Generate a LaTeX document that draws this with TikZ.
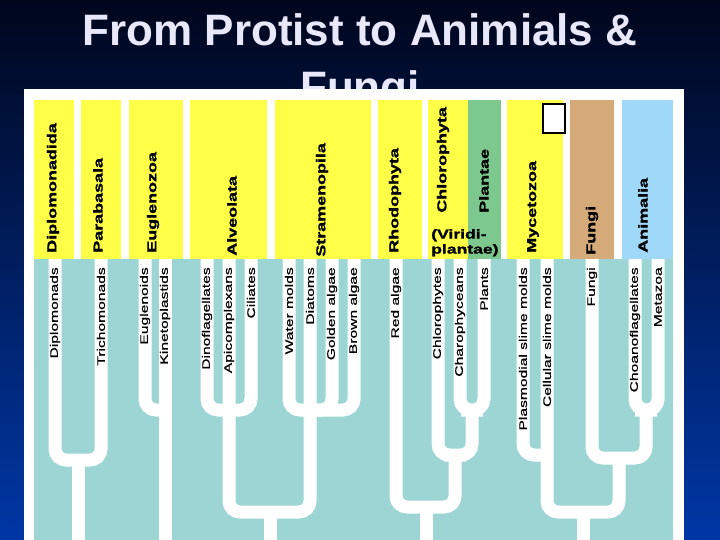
\documentclass[tikz,border=0pt]{standalone}
\usepackage{fontspec}
\setmainfont{Liberation Sans}
\newfontfamily\heavyfont[FakeBold=1.2]{Liberation Sans Bold}
\newfontfamily\leaffont[FakeBold=0.5]{Liberation Sans}

\definecolor{slidetop}{RGB}{0,6,28}
\definecolor{slidemid}{RGB}{0,32,115}
\definecolor{slidebot}{RGB}{0,55,165}
\definecolor{titlegrey}{RGB}{232,232,250}
\definecolor{protyellow}{RGB}{255,255,72}
\definecolor{plantgreen}{RGB}{124,200,143}
\definecolor{fungitan}{RGB}{212,170,120}
\definecolor{animalblue}{RGB}{160,216,248}
\definecolor{treeteal}{RGB}{157,213,213}

\tikzset{
  branch/.style={draw=white, line width=13pt, rounded corners=11pt},
  leaf/.style={rotate=90, xscale=1.42, anchor=east, inner sep=0pt,
    font=\leaffont\fontsize{11}{13}\selectfont},
  group/.style={rotate=90, xscale=1.38, anchor=west, inner sep=0pt,
    font=\heavyfont\fontsize{13}{15}\selectfont},
}

\def\leaves{55/dipl/Diplomonads, 101/tric/Trichomonads, 145/eugl/Euglenoids,
  165/kine/Kinetoplastids, 207/dino/Dinoflagellates, 229/apic/Apicomplexans,
  251/cili/Ciliates, 289/wate/Water molds, 310/diat/Diatoms,
  332/gold/Golden algae, 354/brow/Brown algae, 396/reda/Red algae,
  438/chlo/Chlorophytes, 460/char/Charophyceans, 484/plan/Plants,
  523/plas/Plasmodial slime molds, 547/cell/Cellular slime molds,
  592/fung/Fungi, 635/chon/Choanoflagellates, 658/meta/Metazoa}

\begin{document}
\begin{tikzpicture}[x=1pt, y=-1pt]
    \clip (0,0) rectangle (720,540);
    % Draw the slide background
    \shade[top color=slidetop, middle color=slidemid, bottom color=slidebot]
      (0,0) rectangle (720,540);

    % Title
    \node[font=\bfseries\fontsize{44}{57}\selectfont, text=titlegrey, align=center,
      anchor=north, inner sep=0pt] (title) at (360,13)
      {From Protist to Animials \&\\Fungi};

    % Draw the white frame
    \fill[white] (24,89) rectangle (684,545);

    % Draw the header columns
    \fill[protyellow] (34,100) rectangle (74,259);
    \fill[protyellow] (81,100) rectangle (121,259);
    \fill[protyellow] (129,100) rectangle (183,259);
    \fill[protyellow] (190,100) rectangle (267,259);
    \fill[protyellow] (275,100) rectangle (371,259);
    \fill[protyellow] (378,100) rectangle (422,259);
    \fill[protyellow] (428,100) rectangle (468,259);
    \fill[plantgreen] (468,100) rectangle (501,259);
    \fill[protyellow] (507,100) rectangle (563,259);
    \fill[fungitan] (570,100) rectangle (614,259);
    \fill[animalblue] (622,100) rectangle (673,259);
    \draw[black, line width=2.3pt, fill=white] (543,104) rectangle (565,133);

    % Draw the tree area
    \fill[treeteal] (34,259) rectangle (673,545);

    \foreach \x/\name/\txt in \leaves {
      \coordinate (\name) at (\x,259);
    }
    \coordinate (jdp) at (78,460);
    \coordinate (jeu) at (165,410);
    \coordinate (jal) at (229,410);
    \coordinate (jst) at (310,410);
    \coordinate (jas) at (270,512);
    \coordinate (jcp) at (472,410);
    \coordinate (jch) at (455,455);
    \coordinate (jrv) at (426,507);
    \coordinate (jmy) at (547,455);
    \coordinate (jan) at (646,410);
    \coordinate (jfa) at (619,458);
    \coordinate (jmf) at (583,512);

    % Draw the branches
    \draw[branch] (dipl) |- (jdp) -| (tric);
    \draw[branch] (jdp) -- +(0,90);
    \draw[branch] (eugl) |- (jeu);
    \draw[branch] (kine) -- +(0,290);
    \draw[branch] (dino) |- (jal);
    \draw[branch] (cili) |- (jal);
    \draw[branch] (wate) |- (jst);
    \draw[branch] (gold) |- (jst);
    \draw[branch] (brow) |- (jst);
    \draw[branch] (apic) |- (jas) -| (diat);
    \draw[branch] (jas) -- +(0,40);
    \draw[branch] (char) |- (jcp) -| (plan);
    \draw[branch] (chlo) |- (jch) -| ([yshift=6pt]jcp);
    \draw[branch] (reda) |- (jrv) -| ([yshift=6pt]jch);
    \draw[branch] (jrv) -- +(0,40);
    \draw[branch] (plas) |- (jmy);
    \draw[branch] (chon) |- (jan) -| (meta);
    \draw[branch] (fung) |- (jfa) -| ([yshift=6pt]jan);
    \draw[branch] (cell) |- (jmf) -| ([yshift=6pt]jfa);
    \draw[branch] (jmf) -- +(0,40);

    % Add labels
    \foreach \x/\name/\txt in \leaves {
      \node[leaf] (\name-t) at (\x,267) {\txt};
    }
    \foreach \x/\y/\name/\txt in {53/253/gdip/Diplomonadida, 98/253/gpar/Parabasala,
        153/253/geug/Euglenozoa, 232/256/galv/Alveolata, 322/257/gstr/Stramenopila,
        395/253/grho/Rhodophyta, 443/213/gchl/Chlorophyta, 484/213/gpla/Plantae,
        533/253/gmyc/Mycetozoa, 592/255/gfun/Fungi, 643/253/gani/Animalia} {
      \node[group] (\name) at (\x,\y) {\txt};
    }
    \node[font=\heavyfont\fontsize{13}{15}\selectfont, xscale=1.35, align=left,
      anchor=north west, inner sep=0pt] (viridi) at (431,229) {(Viridi-\\plantae)};
\end{tikzpicture}
\end{document}
